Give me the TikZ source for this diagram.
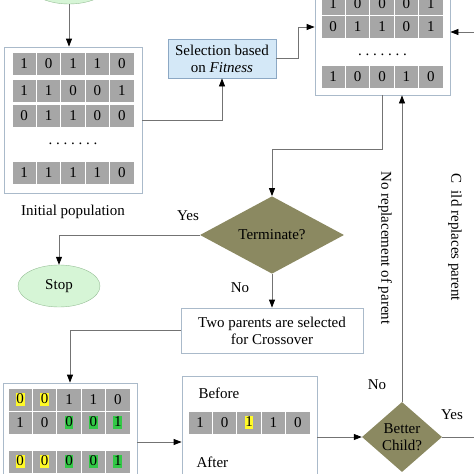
\documentclass[tikz,border=0pt]{standalone}
\usepackage{fontspec}
\setmainfont{Liberation Serif}
\usepackage{tikz}
\usetikzlibrary{arrows.meta,positioning,calc,shapes.geometric}
\usepackage{xcolor}

\definecolor{boxline}{RGB}{170,186,202}
\definecolor{cellgray}{RGB}{166,166,166}
\definecolor{linegray}{RGB}{115,115,115}
\definecolor{olivefill}{RGB}{139,137,97}
\definecolor{stopfill}{RGB}{214,245,214}
\definecolor{stopline}{RGB}{150,190,150}
\definecolor{selfill}{RGB}{212,232,247}
\definecolor{selline}{RGB}{140,168,196}
\definecolor{hlyellow}{RGB}{255,250,40}
\definecolor{hlgreen}{RGB}{50,200,70}

\newcommand{\hly}[1]{{\setlength{\fboxsep}{0.6pt}\colorbox{hlyellow}{\rule[-2.5pt]{0pt}{12.5pt}#1}}}
\newcommand{\hlg}[1]{{\setlength{\fboxsep}{0.6pt}\colorbox{hlgreen}{\rule[-2.5pt]{0pt}{12.5pt}#1}}}
\newcommand{\bitrow}[3]{%
  \foreach \b [count=\i] in {#3}
    \node[cell] (#1-\i) at ($(#2)+(\i*24.4-12.2,0)$) {\b};}

\begin{document}
\begin{tikzpicture}[x=1pt, y=-1pt,
  font=\fontsize{15}{17}\selectfont,
  box/.style={rectangle, draw=boxline, line width=0.8pt, inner sep=0pt},
  cell/.style={rectangle, fill=cellgray, draw=white, line width=1pt,
    minimum width=24.4pt, minimum height=23pt, inner sep=0pt},
  startstop/.style={ellipse, draw=stopline, fill=stopfill,
    minimum width=82pt, minimum height=42pt},
  decision/.style={diamond, fill=olivefill, inner sep=0pt, align=center},
  flow/.style={draw=linegray, line width=0.8pt,
    -{Stealth[black, length=8pt, width=6pt, inset=0pt]}},
  link/.style={draw=linegray, line width=0.8pt}]
  \useasboundingbox (0,0) rectangle (474,474);
  \clip (0,0) rectangle (474,474);

  \node[startstop] (start) at (69,-17) {};

  \node[box, minimum width=138pt, minimum height=146pt] (initpop) at (73,120) {};
  \bitrow{ip1}{12,64}{1,0,1,1,0}
  \bitrow{ip2}{12,90.5}{1,1,0,0,1}
  \bitrow{ip3}{12,116}{0,1,1,0,0}
  \node (ipdots) at (73,144) {.\ .\ .\ .\ .\ .\ .};
  \bitrow{ip4}{12,173}{1,1,1,1,0}
  \node (iplabel) at (73,212) {Initial population};

  \node[box, draw=selline, fill=selfill, minimum width=108pt,
    minimum height=39pt, align=center] (select) at (222,58.5)
    {Selection based\\on \textit{Fitness}};

  \node[box, minimum width=135pt, minimum height=145pt] (newpop) at (382.5,22.5) {};
  \bitrow{np1}{321,4}{1,0,0,0,1}
  \bitrow{np2}{321,27}{0,1,1,0,1}
  \node (npdots) at (382.5,55) {.\ .\ .\ .\ .\ .\ .};
  \bitrow{np3}{321,76.5}{1,0,0,1,0}

  \node[decision, minimum width=144pt, minimum height=64pt] (terminate)
    at (272,235) {Terminate?};
  \node[startstop] (stop) at (59,286) {Stop};
  \node[box, minimum width=182pt, minimum height=45pt, align=center]
    (parents) at (272,330.5) {Two parents are selected\\for Crossover};

  \node[box, minimum width=134pt, minimum height=118pt] (crossover) at (70,442) {};
  \bitrow{cx1}{8,399.5}{\hly{0},\hly{0},1,1,0}
  \bitrow{cx2}{8,422.5}{1,0,\hlg{0},\hlg{0},\hlg{1}}
  \bitrow{cx3}{8,461.5}{\hly{0},\hly{0},\hlg{0},\hlg{0},\hlg{1}}

  \node[box, minimum width=135pt, minimum height=122pt] (mutation) at (249.5,437) {};
  \node[anchor=west] (before) at (195,393) {Before};
  \bitrow{mu1}{188,422.5}{1,0,\hly{1},1,0}
  \node[anchor=west] (after) at (193,462) {After};

  \node[decision, minimum width=80pt, minimum height=70pt] (better)
    at (402,437) {Better\\Child?};

  \coordinate (yesout) at (474,437);
  \coordinate (backin) at (474,32);

  \draw[flow] (start) -- (start |- initpop.north);
  \draw[flow] (initpop.east) -| (select.south);
  \draw[flow] (select.east) -- ++(22,0) |- (newpop.west |- np2-1);
  \draw[flow] (newpop.south) -- ++(0,54) -| (terminate.north);
  \draw[flow] (terminate.west) -| (stop.north);
  \draw[flow] (terminate.south) -- (parents.north);
  \draw[flow] (parents.west) -| (crossover.north);
  \draw[flow] (crossover.east) -- (crossover.east -| mutation.west);
  \draw[flow] (mutation.east) -- (better.west);
  \draw[flow] (better.north) -- (newpop.south -| better.north);
  \draw[link] (better.east) -- (yesout);
  \draw[flow] (backin) -- (newpop.east |- backin);

  \node (yes1) at (188,216) {Yes};
  \node (no1) at (240,288) {No};
  \node (no2) at (377,385) {No};
  \node (yes2) at (452,415) {Yes};
  \node[rotate=-90] (noreplace) at (385,248) {No replacement of parent};
  \node[rotate=-90] (replace) at (455,237) {C\phantom{h}ild replaces parent};
\end{tikzpicture}
\end{document}
